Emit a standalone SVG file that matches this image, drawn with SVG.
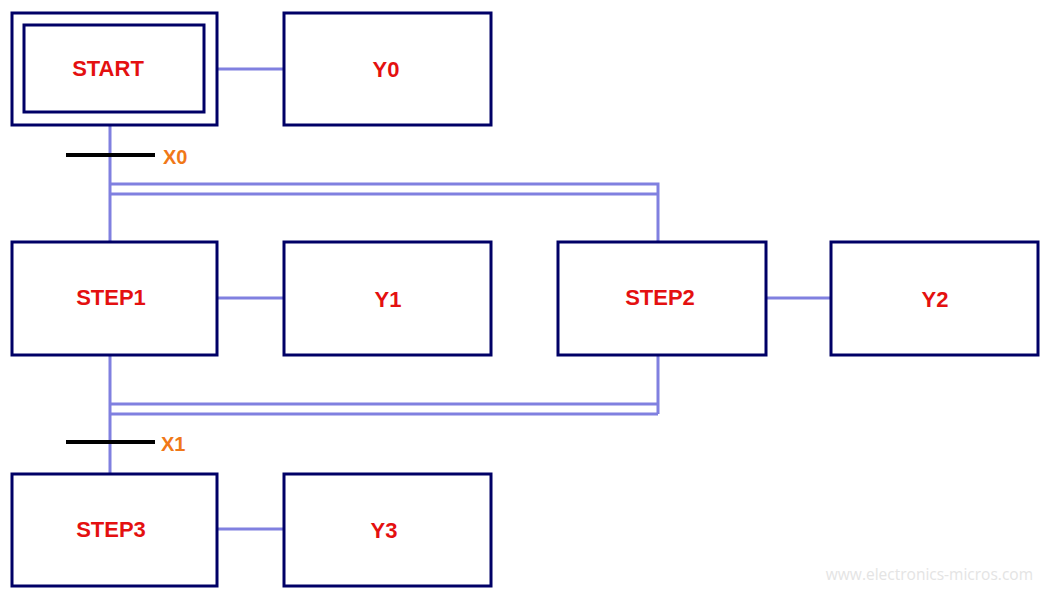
<svg xmlns="http://www.w3.org/2000/svg" width="1051" height="598" viewBox="0 0 1051 598">
<style>
.b{fill:#fff;stroke:#000066;stroke-width:3}
.c{stroke:#8080e0;stroke-width:3;fill:none}
.t{font-family:"Liberation Sans",Arial,sans-serif;font-weight:bold;font-size:22px;fill:#e41010;text-anchor:middle}
.x{font-family:"Liberation Sans",Arial,sans-serif;font-weight:bold;font-size:20px;fill:#f07818}
.bar{stroke:#000;stroke-width:4}
</style>
<rect width="1051" height="598" fill="#fff"/>
<g id="connectors">
<path class="c" d="M110 125V242M110 184H658V242M110 194H658M110 355V474M110 404H658M658 355V414M110 414H658M217 69H284M217 298H284M766 298H831M217 529H284"/>
<line class="bar" x1="66" y1="155" x2="155" y2="155"/>
<line class="bar" x1="66" y1="442" x2="155" y2="442"/>
<text class="x" x="163" y="164">X0</text>
<text class="x" x="161" y="451">X1</text>
</g>
<g id="start"><rect class="b" x="12" y="13" width="205" height="112"/><rect class="b" x="24" y="25" width="180" height="87"/><text class="t" x="108" y="76">START</text></g>
<g id="y0"><rect class="b" x="284" y="13" width="207" height="112"/><text class="t" x="386" y="77">Y0</text></g>
<g id="step1"><rect class="b" x="12" y="242" width="205" height="113"/><text class="t" x="111" y="305">STEP1</text></g>
<g id="y1"><rect class="b" x="284" y="242" width="207" height="113"/><text class="t" x="388" y="307">Y1</text></g>
<g id="step2"><rect class="b" x="558" y="242" width="208" height="113"/><text class="t" x="660" y="305">STEP2</text></g>
<g id="y2"><rect class="b" x="831" y="242" width="207" height="113"/><text class="t" x="935" y="307">Y2</text></g>
<g id="step3"><rect class="b" x="12" y="474" width="205" height="112"/><text class="t" x="111" y="537">STEP3</text></g>
<g id="y3"><rect class="b" x="284" y="474" width="207" height="112"/><text class="t" x="384" y="538">Y3</text></g>
<text x="1033" y="580" font-family="'Open Sans',sans-serif" font-size="15.5" fill="#e4e4e4" text-anchor="end">www.electronics-micros.com</text>
</svg>
